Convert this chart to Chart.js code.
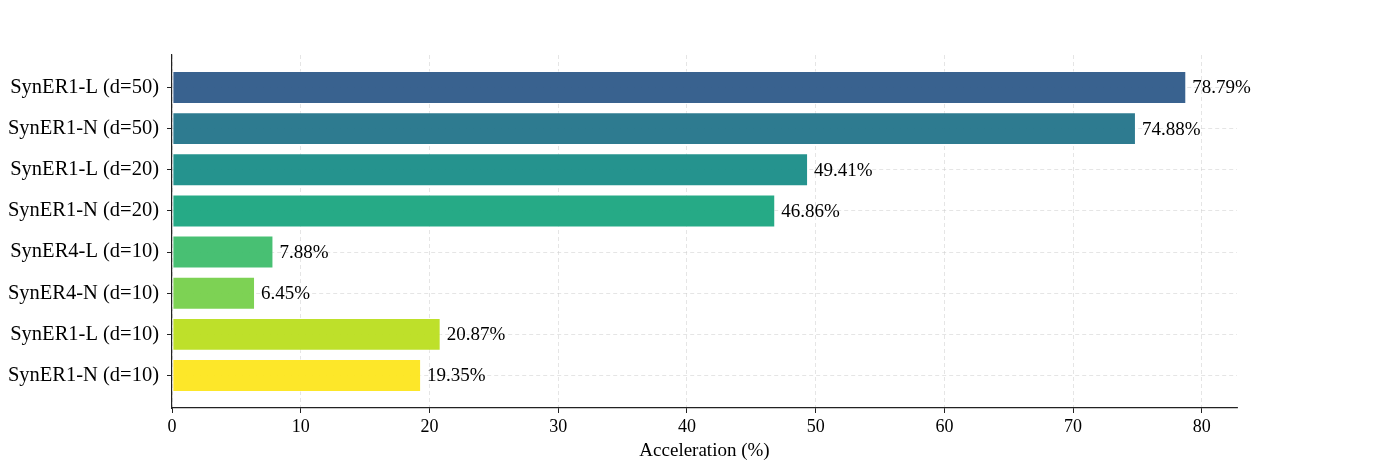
<!DOCTYPE html>
<html>
<head>
<meta charset="utf-8">
<script src="https://cdn.jsdelivr.net/npm/chart.js@4.4.1/dist/chart.umd.min.js"></script>
<style>
  html, body { margin: 0; padding: 0; background: #fff; }
  #wrap { width: 1380px; height: 464px; }
</style>
</head>
<body>
<div id="wrap"><canvas id="chart"></canvas></div>
<script>
const labels = [
    "SynER1-L (d=50)",
    "SynER1-N (d=50)",
    "SynER1-L (d=20)",
    "SynER1-N (d=20)",
    "SynER4-L (d=10)",
    "SynER4-N (d=10)",
    "SynER1-L (d=10)",
    "SynER1-N (d=10)"
];
const values = [78.79, 74.88, 49.41, 46.86, 7.88, 6.45, 20.87, 19.35];
const xTicks = [0, 10, 20, 30, 40, 50, 60, 70, 80];

// viridis samples, top to bottom
const palette = ["#355f8d", "#2a788e", "#21918c", "#22a884", "#44bf70", "#7ad151", "#bddf26", "#fde725"];

const FONT = "'Liberation Serif', 'Times New Roman', serif";

function withAlpha(hex, a) {
    const n = parseInt(hex.slice(1), 16);
    return `rgba(${(n >> 16) & 255}, ${(n >> 8) & 255}, ${n & 255}, ${a})`;
}

const valueLabels = {
    id: "valueLabels",
    afterDatasetsDraw(chart) {
        const { ctx } = chart;
        const meta = chart.getDatasetMeta(0);
        ctx.save();
        ctx.font = `19px ${FONT}`;
        ctx.fillStyle = "#000";
        ctx.textAlign = "left";
        ctx.textBaseline = "middle";
        meta.data.forEach((bar, i) => {
            ctx.fillText(values[i].toFixed(2) + "%", bar.x + 6, bar.y + 1);
        });
        ctx.restore();
    }
};

const gridOpts = {
    color: "rgba(200,200,200,0.6)",
    lineWidth: 0.8,
    offset: false,
    tickColor: "#222",
    tickBorderDash: [],
    tickLength: 5,
    tickWidth: 1
};

const ctx = document.getElementById("chart").getContext("2d");
new Chart(ctx, {
    type: "bar",
    data: {
        datasets: [{
            data: values.map((v, i) => ({ x: v, y: i })),
            backgroundColor: palette.map(c => withAlpha(c, 0.98)),
            borderColor: "rgba(255,255,255,0.5)",
            borderWidth: 1,
            borderSkipped: false,
            barPercentage: 0.8,
            categoryPercentage: 1.0
        }]
    },
    options: {
        indexAxis: "y",
        responsive: true,
        maintainAspectRatio: false,
        animation: false,
        layout: { padding: { top: 55, right: 143, left: 0, bottom: 0 } },
        plugins: {
            legend: { display: false },
            tooltip: { enabled: false }
        },
        scales: {
            x: {
                type: "linear",
                min: 0,
                max: 82.73,
                afterBuildTicks: scale => { scale.ticks = xTicks.map(v => ({ value: v })); },
                afterFit: scale => { scale.height = 56; },
                grid: gridOpts,
                border: { display: true, color: "#222", width: 1.2, dash: [4, 3] },
                ticks: {
                    color: "#000",
                    font: { family: FONT, size: 18 },
                    padding: 3
                },
                title: {
                    display: true,
                    text: "Acceleration (%)",
                    color: "#000",
                    font: { family: FONT, size: 19 },
                    padding: { top: 0, bottom: 2 }
                }
            },
            y: {
                type: "linear",
                min: -0.79,
                max: 7.79,
                reverse: true,
                offset: false,
                afterBuildTicks: scale => { scale.ticks = labels.map((_, i) => ({ value: i })); },
                afterFit: scale => { scale.width = 172; },
                grid: gridOpts,
                border: { display: true, color: "#222", width: 1.2, dash: [4, 3] },
                ticks: {
                    color: "#000",
                    font: { family: FONT, size: 20.5 },
                    padding: 8,
                    callback: v => labels[v]
                }
            }
        }
    },
    plugins: [valueLabels]
});
</script>
</body>
</html>
